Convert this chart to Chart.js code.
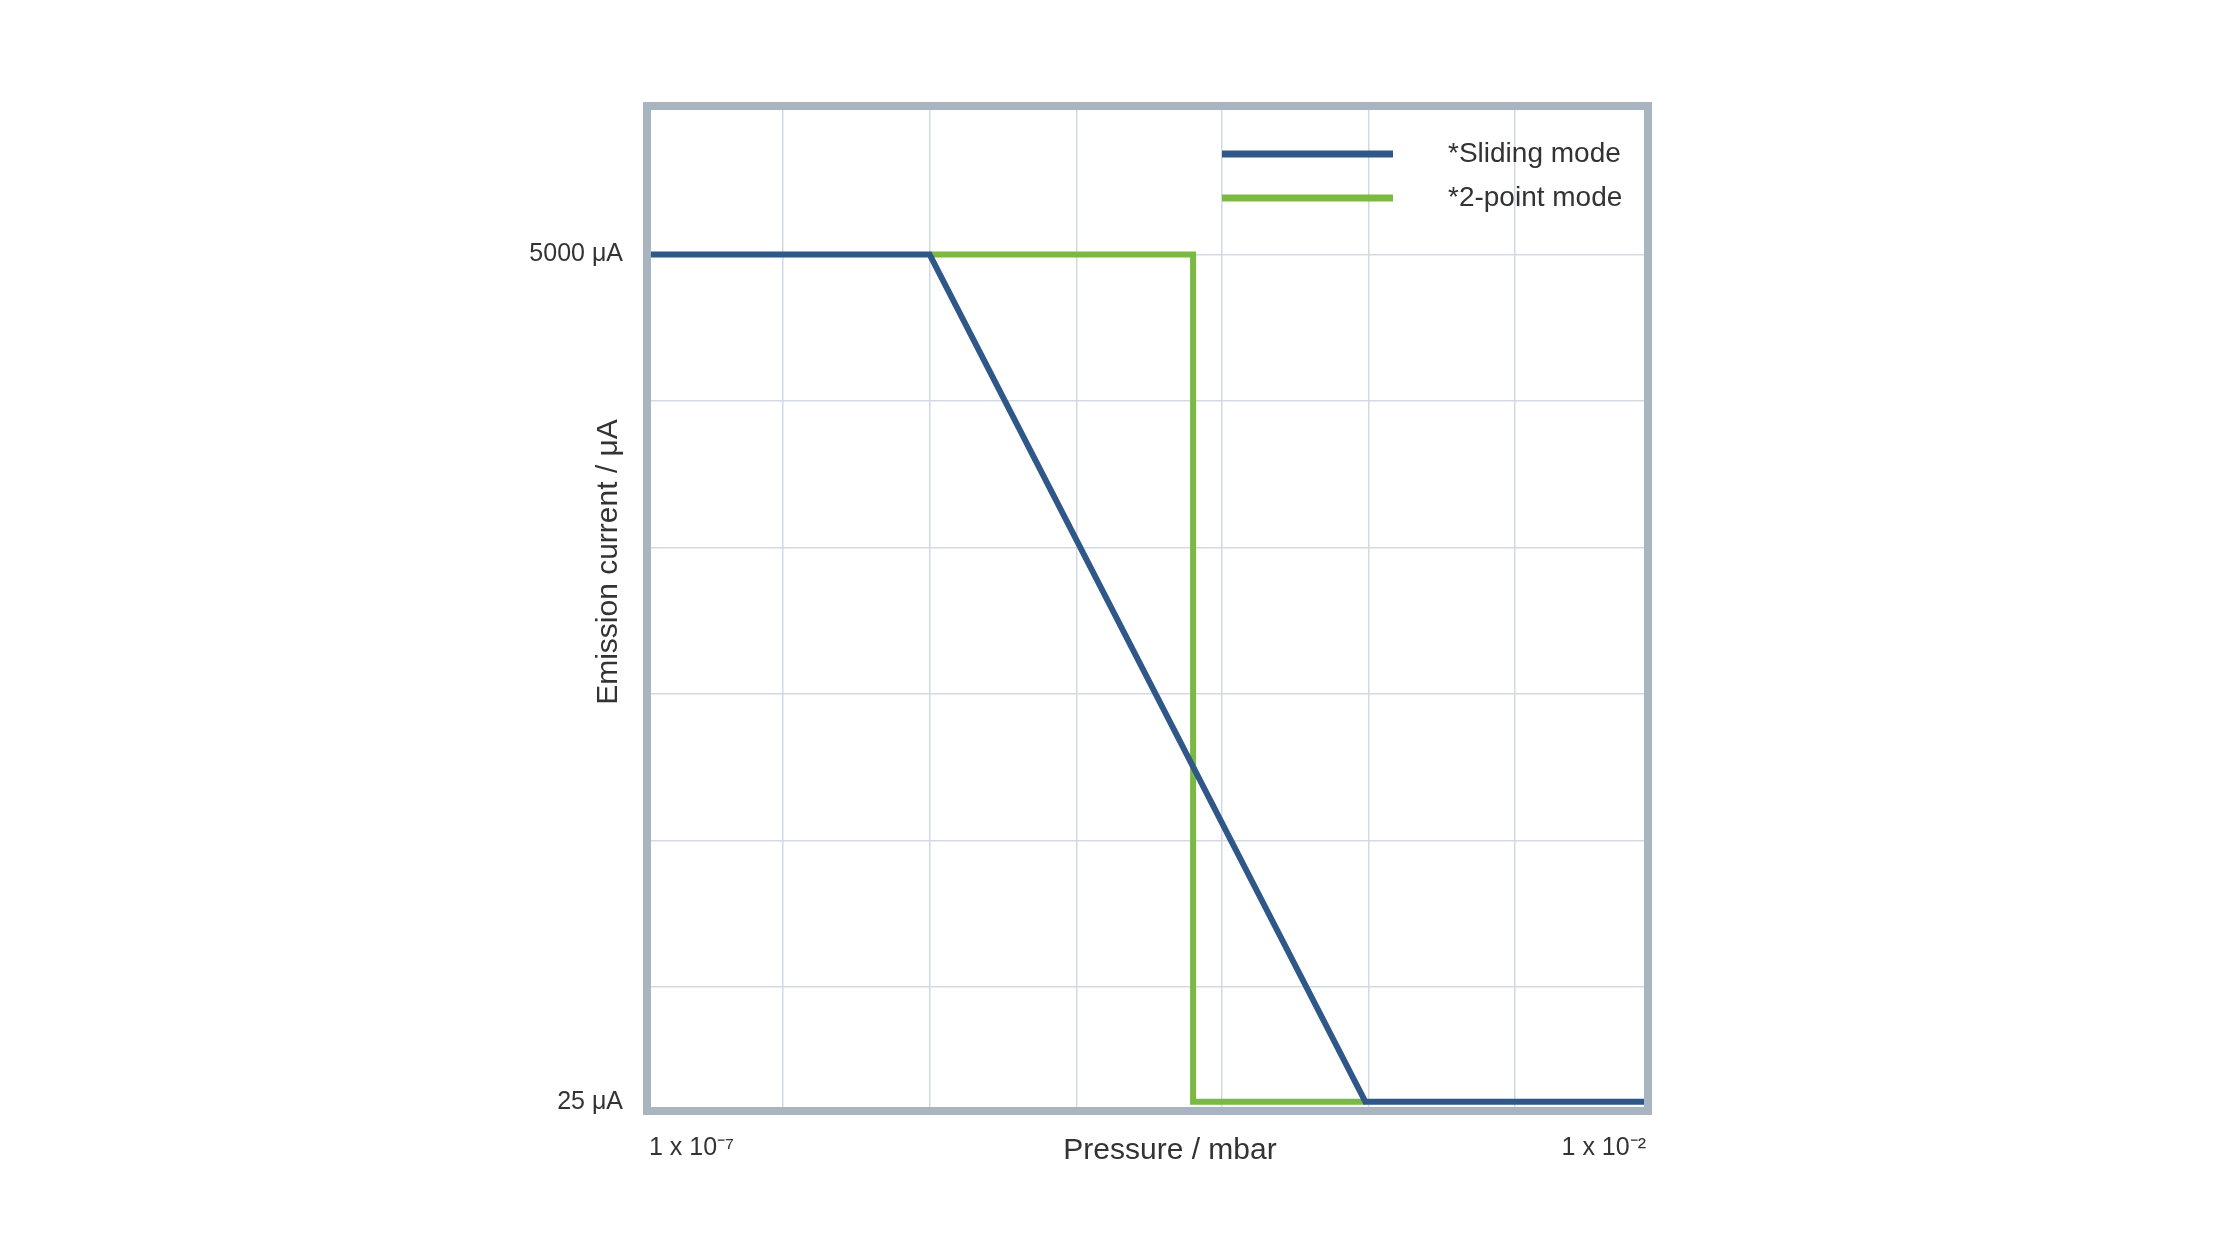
<!DOCTYPE html>
<html><head><meta charset="utf-8">
<script src="https://cdn.jsdelivr.net/npm/chart.js@4"></script>
<style>html,body{margin:0;padding:0;background:#fff}#w{width:2232px;height:1256px}</style>
</head><body><div id="w"><canvas id="c"></canvas></div>
<script>
// x: relative position along the pressure axis (0 = 1e-7, 700 = 1e-2)
const slidingX = [0, 197, 503, 700];
const slidingY = [5000, 5000, 25, 25];
const twoPointX = [197, 382, 382, 503];
const twoPointY = [5000, 5000, 25, 25];
const xGrid = [0, 94, 197, 300, 402, 505, 608, 700];
const xTickLabels = {0: '1 x 10⁻⁷', 700: '1 x 10⁻²'};
const yGrid = [-17, 700, 1560, 2420, 3280, 4140, 5000, 5860];
const yTickLabels = {5000: '5000 μA', 25: '25 μA'};
const seriesNames = ['*Sliding mode', '*2-point mode'];
const colors = ['#2f5788', '#7ab942'];
const FONT = "'Liberation Sans', Arial, sans-serif";

const deco = {
  id: 'deco',
  afterDraw(ch) {
    const {ctx, chartArea: a} = ch;
    ctx.save();
    ctx.strokeStyle = '#a8b5c1'; ctx.lineWidth = 8;
    ctx.strokeRect(a.left - 2, a.top - 2, a.right - a.left + 4, a.bottom - a.top + 4);
    ctx.fillStyle = '#333';
    ctx.font = '30px ' + FONT;
    ctx.textAlign = 'center'; ctx.textBaseline = 'middle';
    ctx.fillText('Pressure / mbar', 1170, 1151);
    ctx.translate(609, 562); ctx.rotate(-Math.PI / 2);
    ctx.fillText('Emission current / μA', 0, 0);
    ctx.restore();
    ctx.save();
    ctx.font = '28px ' + FONT; ctx.textBaseline = 'middle'; ctx.textAlign = 'left';
    seriesNames.forEach((n, i) => {
      const y = 154 + i * 44;
      ctx.strokeStyle = colors[i]; ctx.lineWidth = 7;
      ctx.beginPath(); ctx.moveTo(1222, y); ctx.lineTo(1393, y); ctx.stroke();
      ctx.fillStyle = '#333'; ctx.fillText(n, 1448, y);
    });
    ctx.restore();
  }
};

new Chart(document.getElementById('c'), {
  type: 'line',
  data: { datasets: [
    { label: seriesNames[1], data: twoPointX.map((x, i) => ({x, y: twoPointY[i]})), borderColor: colors[1], borderWidth: 6, pointRadius: 0, tension: 0, order: 2 },
    { label: seriesNames[0], data: slidingX.map((x, i) => ({x, y: slidingY[i]})), borderColor: colors[0], borderWidth: 6, pointRadius: 0, tension: 0, order: 1 }
  ]},
  options: {
    responsive: true, maintainAspectRatio: false, animation: false,
    layout: { padding: { left: 450, right: 586, top: 108, bottom: 80 } },
    plugins: { legend: { display: false }, tooltip: { enabled: false } },
    scales: {
      x: { type: 'linear', min: 0, max: 700,
        afterBuildTicks: s => { s.ticks = xGrid.map(v => ({value: v})); },
        afterFit: s => { s.height = 67; },
        border: { display: false },
        grid: { color: '#d3d9e1', lineWidth: 1.5, drawTicks: false },
        ticks: { align: 'inner', maxRotation: 0, autoSkip: false, padding: 24, color: '#333', font: { family: FONT, size: 25 },
          callback: v => xTickLabels[v] || '' } },
      y: { type: 'linear', min: -17, max: 5860,
        afterBuildTicks: s => { s.ticks = [...yGrid, 25].sort((a, b) => a - b).map(v => ({value: v})); },
        afterFit: s => { s.width = 199; },
        border: { display: false },
        grid: { color: c => (c.tick && (c.tick.value === 25 || c.tick.value === -17)) ? 'rgba(0,0,0,0)' : '#d3d9e1', lineWidth: 1.5, drawTicks: false },
        ticks: { autoSkip: false, padding: 26, color: '#333', font: { family: FONT, size: 25 },
          callback: v => yTickLabels[v] || '' } }
    }
  },
  plugins: [deco]
});
</script></body></html>
